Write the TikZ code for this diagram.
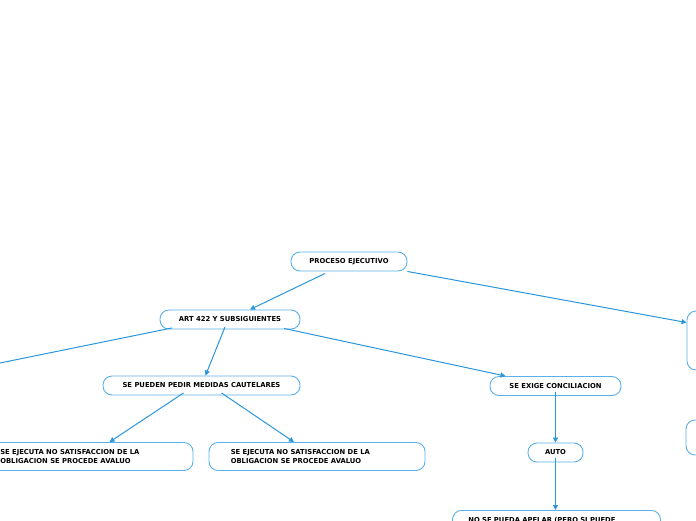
\documentclass[tikz,border=0pt]{standalone}
\usepackage{fontspec}
\setmainfont{DejaVu Sans}
\usetikzlibrary{arrows.meta}
\definecolor{bd}{HTML}{5AB0EA}
\definecolor{ln}{HTML}{2A96DC}
\begin{document}
\begin{tikzpicture}[x=1pt,y=-1pt,
  box/.style={draw=bd,line width=0.9pt,rounded corners=9pt,fill=white,minimum height=19pt,inner sep=0pt,font=\fontsize{6.8}{9}\selectfont\bfseries},
  con/.style={ln,line width=1pt,-{Triangle[length=5pt,width=5pt]}}]
\useasboundingbox (0,0) rectangle (696,520);
\clip (0,0) rectangle (696,520);
\node[box,minimum width=116pt] (pe) at (349,261.5) {PROCESO EJECUTIVO};
\node[box,minimum width=140pt] (art) at (230,319.5) {ART 422 Y SUBSIGUIENTES};
\node[box,minimum width=197pt] (med) at (201.5,385.5) {SE PUEDEN PEDIR MEDIDAS CAUTELARES};
\node[box,minimum width=131pt] (con) at (555.5,386) {SE EXIGE CONCILIACION};
\node[box,minimum width=55pt] (auto) at (555.5,452.5) {AUTO};
\node[box,minimum width=208pt,minimum height=36pt,anchor=north west,align=left,text width=176pt,inner xsep=16pt,inner ysep=6pt] (np) at (452,510) {NO SE PUEDA APELAR (PERO SI PUEDE\\[8pt]~};
\node[box,minimum width=213pt,minimum height=28pt,align=left] (e1) at (86.5,456.5) {SE EJECUTA NO SATISFACCION DE LA\\OBLIGACION SE PROCEDE AVALUO\hspace*{42pt}};
\node[box,minimum width=216pt,minimum height=28pt,align=left] (e2) at (317,456.5) {SE EJECUTA NO SATISFACCION DE LA\\OBLIGACION SE PROCEDE AVALUO\hspace*{42pt}};
\node[box,minimum width=40pt,minimum height=59pt] (r1) at (707,340.5) {};
\node[box,minimum width=40pt,minimum height=35pt] (r2) at (706,437.5) {};
\coordinate (lf) at (-5,364);
\draw[con] (pe.south) ++(-24,2) -- ([xshift=20pt]art.north);
\draw[con] (pe.south east) -- (r1.north west |- 0,322.5) ;
\draw[ln,line width=1pt] ([xshift=-58pt,yshift=1.5pt]art.south) -- (lf);
\draw[con] ([xshift=-5pt,yshift=2.5pt]art.south) -- ([xshift=4pt]med.north);
\draw[con] ([xshift=54pt,yshift=1pt]art.south) -- ([xshift=-50pt]con.north);
\draw[con] ([xshift=-18pt,yshift=2.5pt]med.south) -- ([xshift=23pt]e1.north);
\draw[con] ([xshift=20pt,yshift=2.5pt]med.south) -- ([xshift=-23pt]e2.north);
\draw[con] ([yshift=4pt]con.south) -- (auto.north);
\draw[con] ([yshift=4pt]auto.south) -- (auto.south |- np.north);
\end{tikzpicture}
\end{document}
